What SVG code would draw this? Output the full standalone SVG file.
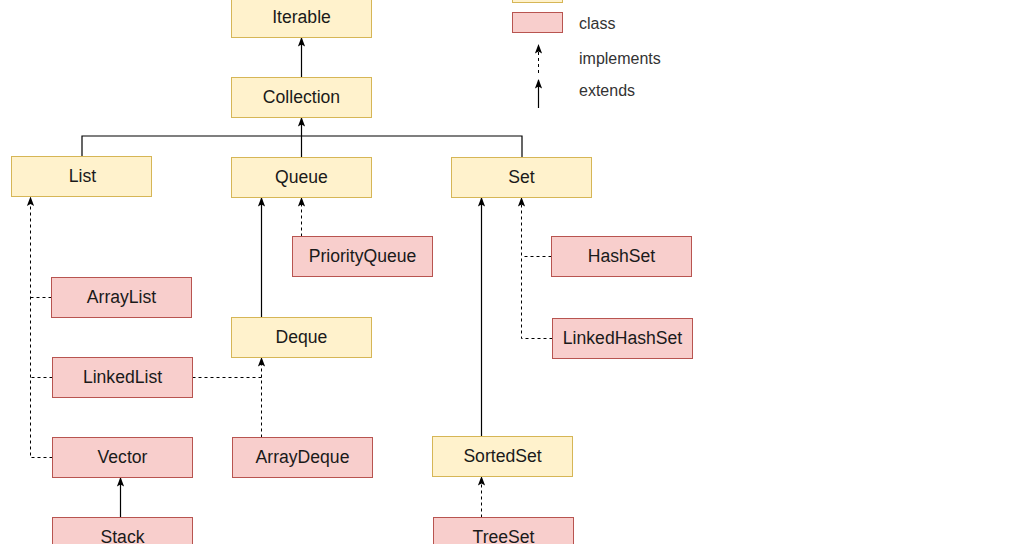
<svg xmlns="http://www.w3.org/2000/svg" width="1036" height="544" viewBox="0 0 1036 544">
<style>
.i{fill:#fff2cc;stroke:#d6b656;stroke-width:1}
.c{fill:#f8cecc;stroke:#b85450;stroke-width:1}
.t{font-family:"Liberation Sans",Arial,sans-serif;font-size:17.6px;fill:#1a1a1a;text-anchor:middle}
.lg{font-family:"Liberation Sans",Arial,sans-serif;font-size:16px;fill:#333}
.e{fill:none;stroke:#000;stroke-width:1.2}
.d{fill:none;stroke:#000;stroke-width:1;stroke-dasharray:3 3}
</style>
<defs>
<marker id="a" markerUnits="userSpaceOnUse" markerWidth="10" markerHeight="10" viewBox="0 0 10 8" refX="8.5" refY="4" orient="auto">
<path d="M0,0.4 L9.5,4 L0,7.6 L2,4 Z" fill="#000"/>
</marker>
</defs>
<rect width="1036" height="544" fill="#fff"/>
<g id="legend">
<rect class="i" x="512.5" y="-17.5" width="50" height="20"/>
<rect class="c" x="512.5" y="12.5" width="50" height="20"/>
<text class="lg" x="579" y="28.5">class</text>
<text class="lg" x="579" y="63.5">implements</text>
<text class="lg" x="579" y="95.5">extends</text>
<path class="d" d="M538.5,73 V45" marker-end="url(#a)"/>
<path class="e" d="M538.5,108 V80" marker-end="url(#a)"/>
</g>
<g id="connectors">
<path class="e" d="M301.5,77.5 V38" marker-end="url(#a)"/>
<path class="e" d="M82,156.5 V136 H522 V157.5 M301.5,157.5 V136" />
<path class="e" d="M301.5,136 V118" marker-end="url(#a)"/>
<path class="d" d="M51.5,297.5 H30.5 M52.5,377.5 H30.5 M52.5,457.5 H30.5 V197.5" marker-end="url(#a)"/>
<path class="e" d="M261.5,317.5 V198" marker-end="url(#a)"/>
<path class="d" d="M301.5,236.5 V198" marker-end="url(#a)"/>
<path class="d" d="M192.5,377.5 H261.5 M261.5,437.5 V358" marker-end="url(#a)"/>
<path class="e" d="M120.5,517.5 V478" marker-end="url(#a)"/>
<path class="e" d="M481.5,436.5 V198" marker-end="url(#a)"/>
<path class="d" d="M551.5,256.5 H521.5 M552.5,338.5 H521.5 V198" marker-end="url(#a)"/>
<path class="d" d="M481.5,517.5 V477" marker-end="url(#a)"/>
</g>
<g id="Iterable"><rect class="i" x="231.5" y="-2.5" width="140" height="40"/><text class="t" x="301.5" y="23">Iterable</text></g>
<g id="Collection"><rect class="i" x="231.5" y="77.5" width="140" height="40"/><text class="t" x="301.5" y="103">Collection</text></g>
<g id="List"><rect class="i" x="11.5" y="156.5" width="140" height="40"/><text class="t" x="82.5" y="182">List</text></g>
<g id="Queue"><rect class="i" x="231.5" y="157.5" width="140" height="40"/><text class="t" x="301.5" y="183">Queue</text></g>
<g id="Set"><rect class="i" x="451.5" y="157.5" width="140" height="40"/><text class="t" x="521.5" y="183">Set</text></g>
<g id="PriorityQueue"><rect class="c" x="292.5" y="236.5" width="140" height="40"/><text class="t" x="362.5" y="262">PriorityQueue</text></g>
<g id="HashSet"><rect class="c" x="551.5" y="236.5" width="140" height="40"/><text class="t" x="621.5" y="262">HashSet</text></g>
<g id="ArrayList"><rect class="c" x="51.5" y="277.5" width="140" height="40"/><text class="t" x="121.5" y="303">ArrayList</text></g>
<g id="Deque"><rect class="i" x="231.5" y="317.5" width="140" height="40"/><text class="t" x="301.5" y="343">Deque</text></g>
<g id="LinkedHashSet"><rect class="c" x="552.5" y="318.5" width="140" height="40"/><text class="t" x="622.5" y="344">LinkedHashSet</text></g>
<g id="LinkedList"><rect class="c" x="52.5" y="357.5" width="140" height="40"/><text class="t" x="122.5" y="383">LinkedList</text></g>
<g id="Vector"><rect class="c" x="52.5" y="437.5" width="140" height="40"/><text class="t" x="122.5" y="463">Vector</text></g>
<g id="ArrayDeque"><rect class="c" x="232.5" y="437.5" width="140" height="40"/><text class="t" x="302.5" y="463">ArrayDeque</text></g>
<g id="SortedSet"><rect class="i" x="432.5" y="436.5" width="140" height="40"/><text class="t" x="502.5" y="462">SortedSet</text></g>
<g id="Stack"><rect class="c" x="52.5" y="517.5" width="140" height="40"/><text class="t" x="122.5" y="543">Stack</text></g>
<g id="TreeSet"><rect class="c" x="433.5" y="517.5" width="140" height="40"/><text class="t" x="503.5" y="543">TreeSet</text></g>
</svg>
